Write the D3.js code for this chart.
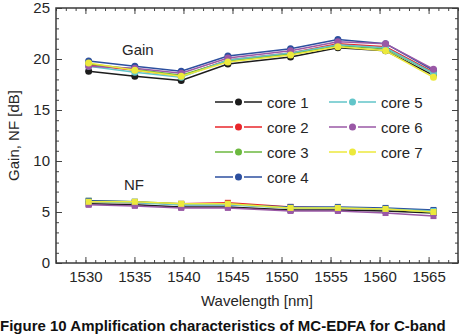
<!DOCTYPE html>
<html>
<head>
<meta charset="utf-8">
<script src="https://cdn.jsdelivr.net/npm/d3@7"></script>
<style>
  body { margin: 0; background: #fff; }
  svg { display: block; font-family: "Liberation Sans", Arial, sans-serif; }
  .tick text { fill: #262626; }
</style>
</head>
<body>
<div class="chart"></div>
<script>
'use strict';

// Measurement wavelengths (ITU grid channels)
const wavelengths = [1530.33, 1535.04, 1539.77, 1544.53, 1550.92, 1555.75, 1560.61, 1565.50];

const cores = ['core 1', 'core 2', 'core 3', 'core 4', 'core 5', 'core 6', 'core 7'];
const coreColors = ['#1c1c1c', '#e8262b', '#6cb93f', '#2c4f9f', '#62c5c9', '#9a58a6', '#ece93c'];

// Gain per core [dB]
const gainCore1 = [18.8, 18.3, 17.9, 19.5, 20.2, 21.1, 20.8, 18.4];
const gainCore2 = [19.4, 18.9, 18.3, 19.9, 20.6, 21.5, 21.2, 18.7];
const gainCore3 = [19.5, 19.0, 18.4, 19.8, 20.5, 21.3, 21.0, 18.6];
const gainCore4 = [19.8, 19.3, 18.8, 20.3, 21.0, 21.9, 21.5, 18.9];
const gainCore5 = [19.3, 18.7, 18.2, 19.9, 20.6, 21.4, 21.1, 18.6];
const gainCore6 = [19.3, 19.1, 18.6, 20.1, 20.8, 21.7, 21.5, 19.0];
const gainCore7 = [19.6, 18.9, 18.3, 19.7, 20.4, 21.2, 20.8, 18.2];

// Noise figure per core [dB]
const nfCore1 = [5.8, 5.7, 5.5, 5.5, 5.2, 5.2, 5.1, 4.9];
const nfCore2 = [6.0, 5.9, 5.8, 5.9, 5.5, 5.4, 5.3, 5.1];
const nfCore3 = [6.1, 6.0, 5.8, 5.8, 5.4, 5.4, 5.3, 5.0];
const nfCore4 = [6.1, 6.0, 5.7, 5.7, 5.5, 5.5, 5.4, 5.2];
const nfCore5 = [6.0, 5.9, 5.7, 5.7, 5.4, 5.4, 5.3, 5.1];
const nfCore6 = [5.7, 5.6, 5.4, 5.4, 5.1, 5.1, 4.9, 4.6];
const nfCore7 = [6.0, 6.0, 5.8, 5.8, 5.4, 5.4, 5.3, 5.0];

const gainSeries = [gainCore1, gainCore2, gainCore3, gainCore4, gainCore5, gainCore6, gainCore7];
const nfSeries = [nfCore1, nfCore2, nfCore3, nfCore4, nfCore5, nfCore6, nfCore7];

const xTicks = [1530, 1535, 1540, 1545, 1550, 1555, 1560, 1565];
const yTicks = [0, 5, 10, 15, 20, 25];

const w = 474;
const h = 335;
const margin = { left: 56, right: 16, top: 8, bottom: 72 };

const svg = d3.select('.chart')
              .append('svg')
              .attr('width', w)
              .attr('height', h);

const xScale = d3.scaleLinear()
                 .domain([1527, 1568])
                 .range([margin.left, w - margin.right]);

const yScale = d3.scaleLinear()
                 .domain([0, 25])
                 .range([h - margin.bottom, margin.top]);

const x0 = margin.left, x1 = w - margin.right;
const y0 = h - margin.bottom, y1 = margin.top;

// Axes: ticks point inward on all four sides
const frame = svg.append('g').attr('class', 'axes').attr('font-size', 15);

function addAxis(axis, tx, ty, labels) {
  const g = frame.append('g')
    .attr('transform', `translate(${tx}, ${ty})`)
    .call(axis);
  g.select('.domain').remove();
  g.selectAll('line').attr('stroke', '#444').attr('stroke-width', 1);
  if (!labels) g.selectAll('text').remove();
  g.attr('font-family', null).attr('font-size', 15);
  return g;
}

const xMinor = d3.range(1527, 1569);
const yMinor = d3.range(0, 26);

addAxis(d3.axisBottom(xScale).tickValues(xMinor).tickSize(-3).tickFormat(''), 0, y0, false);
addAxis(d3.axisTop(xScale).tickValues(xMinor).tickSize(-3).tickFormat(''), 0, y1, false);
addAxis(d3.axisLeft(yScale).tickValues(yMinor).tickSize(-3).tickFormat(''), x0, 0, false);
addAxis(d3.axisRight(yScale).tickValues(yMinor).tickSize(-3).tickFormat(''), x1, 0, false);

addAxis(d3.axisBottom(xScale).tickValues(xTicks).tickSize(-6).tickPadding(8).tickFormat(d3.format('d')), 0, y0, true);
addAxis(d3.axisTop(xScale).tickValues(xTicks).tickSize(-6).tickFormat(''), 0, y1, false);
addAxis(d3.axisLeft(yScale).tickValues(yTicks).tickSize(-6).tickPadding(6).tickFormat(d3.format('d')), x0, 0, true);
addAxis(d3.axisRight(yScale).tickValues(yTicks).tickSize(-6).tickFormat(''), x1, 0, false);

frame.append('rect')
  .attr('x', x0).attr('y', y1)
  .attr('width', x1 - x0).attr('height', y0 - y1)
  .attr('fill', 'none')
  .attr('stroke', '#3a3a3a')
  .attr('stroke-width', 1.5);

// Axis titles
svg.append('text')
  .attr('x', (x0 + x1) / 2)
  .attr('y', 306)
  .attr('text-anchor', 'middle')
  .attr('font-size', 15)
  .attr('fill', '#262626')
  .text('Wavelength [nm]');

svg.append('text')
  .attr('transform', `translate(19, ${(y0 + y1) / 2}) rotate(-90)`)
  .attr('text-anchor', 'middle')
  .attr('font-size', 15)
  .attr('fill', '#262626')
  .text('Gain, NF [dB]');

// Curve labels
svg.append('text').attr('x', 122).attr('y', 55).attr('font-size', 15).attr('fill', '#262626').text('Gain');
svg.append('text').attr('x', 124).attr('y', 190).attr('font-size', 15).attr('fill', '#262626').text('NF');

const line = d3.line()
               .x((d, i) => xScale(wavelengths[i]))
               .y(d => yScale(d));

const plot = svg.append('g').attr('class', 'plot');

// Noise figure curves with square markers
nfSeries.forEach((series, k) => {
  plot.append('path')
    .datum(series)
    .attr('d', line)
    .attr('fill', 'none')
    .attr('stroke', coreColors[k])
    .attr('stroke-width', 1.5);

  plot.selectAll(null)
    .data(series)
    .enter()
    .append('rect')
    .attr('x', (d, i) => xScale(wavelengths[i]) - 3)
    .attr('y', d => yScale(d) - 3)
    .attr('width', 6)
    .attr('height', 6)
    .attr('fill', coreColors[k]);
});

// Gain curves with circle markers
gainSeries.forEach((series, k) => {
  plot.append('path')
    .datum(series)
    .attr('d', line)
    .attr('fill', 'none')
    .attr('stroke', coreColors[k])
    .attr('stroke-width', 1.5);

  plot.selectAll(null)
    .data(series)
    .enter()
    .append('circle')
    .attr('cx', (d, i) => xScale(wavelengths[i]))
    .attr('cy', d => yScale(d))
    .attr('r', 3.5)
    .attr('fill', coreColors[k]);
});

// Legend, two columns
const legend = svg.append('g').attr('class', 'legend');
cores.forEach((name, k) => {
  const col = k < 4 ? 0 : 1;
  const row = k < 4 ? k : k - 4;
  const lx = col === 0 ? 215 : 329;
  const ly = 102 + row * 25;
  const g = legend.append('g').attr('transform', `translate(${lx}, ${ly})`);
  g.append('line').attr('x1', 0).attr('x2', 18).attr('y1', 0).attr('y2', 0)
    .attr('stroke', coreColors[k]).attr('stroke-width', 1.5);
  g.append('line').attr('x1', 29).attr('x2', 47).attr('y1', 0).attr('y2', 0)
    .attr('stroke', coreColors[k]).attr('stroke-width', 1.5);
  g.append('circle').attr('cx', 23.5).attr('cy', 0).attr('r', 3.5).attr('fill', coreColors[k]);
  g.append('text').attr('x', 52).attr('y', 5.5)
    .attr('font-size', 15).attr('fill', '#262626').text(name);
});

// Figure caption
svg.append('text')
  .attr('x', 0)
  .attr('y', 331)
  .attr('font-size', 15)
  .attr('font-weight', 'bold')
  .attr('fill', '#111')
  .text('Figure 10 Amplification characteristics of MC-EDFA for C-band');
</script>
</body>
</html>
